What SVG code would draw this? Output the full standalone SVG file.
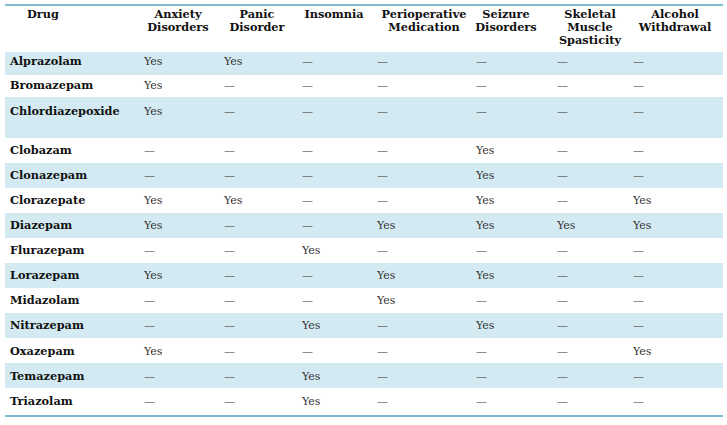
<svg xmlns="http://www.w3.org/2000/svg" width="727" height="425" viewBox="0 0 727 425">
<style>
.h{font-family:"DejaVu Serif",serif;font-weight:bold;font-size:11.3px;fill:#111;text-anchor:middle}
.d{font-family:"DejaVu Serif",serif;font-weight:bold;font-size:11.3px;fill:#111}
.c{font-family:"DejaVu Serif",serif;font-size:11px;fill:#333}
.s{fill:#d3eaf2}
.l{stroke:#7fbcd2;stroke-width:2}
</style>
<rect width="727" height="425" fill="#fff"/>
<g id="shading">
<rect class="s" x="5" y="52" width="718" height="23"/>
<rect class="s" x="5" y="97" width="718" height="41"/>
<rect class="s" x="5" y="163" width="718" height="25"/>
<rect class="s" x="5" y="213" width="718" height="25"/>
<rect class="s" x="5" y="263" width="718" height="25"/>
<rect class="s" x="5" y="313" width="718" height="25"/>
<rect class="s" x="5" y="363" width="718" height="25"/>
</g>
<g id="lines">
<line class="l" x1="5" y1="5" x2="723" y2="5"/>
<line class="l" x1="5" y1="416" x2="723" y2="416"/>
</g>
<g id="header">
<text class="h" x="43" y="18">Drug</text>
<text class="h" x="178" y="18">Anxiety</text><text class="h" x="178" y="31">Disorders</text>
<text class="h" x="257" y="18">Panic</text><text class="h" x="257" y="31">Disorder</text>
<text class="h" x="334" y="18">Insomnia</text>
<text class="h" x="424" y="18">Perioperative</text><text class="h" x="424" y="31">Medication</text>
<text class="h" x="506" y="18">Seizure</text><text class="h" x="506" y="31">Disorders</text>
<text class="h" x="590" y="18">Skeletal</text><text class="h" x="590" y="31">Muscle</text><text class="h" x="590" y="44">Spasticity</text>
<text class="h" x="675" y="18">Alcohol</text><text class="h" x="675" y="31">Withdrawal</text>
</g>
<g id="drugs">
<text class="d" x="10" y="65">Alprazolam</text>
<text class="d" x="10" y="89">Bromazepam</text>
<text class="d" x="10" y="115">Chlordiazepoxide</text>
<text class="d" x="10" y="154">Clobazam</text>
<text class="d" x="10" y="179">Clonazepam</text>
<text class="d" x="10" y="204">Clorazepate</text>
<text class="d" x="10" y="229">Diazepam</text>
<text class="d" x="10" y="254">Flurazepam</text>
<text class="d" x="10" y="279">Lorazepam</text>
<text class="d" x="10" y="304">Midazolam</text>
<text class="d" x="10" y="329">Nitrazepam</text>
<text class="d" x="10" y="355">Oxazepam</text>
<text class="d" x="10" y="380">Temazepam</text>
<text class="d" x="10" y="405">Triazolam</text>
</g>
<g id="cells">
<text class="c" x="144" y="65">Yes</text><text class="c" x="224" y="65">Yes</text><text class="c" x="302" y="65">—</text><text class="c" x="377" y="65">—</text><text class="c" x="476" y="65">—</text><text class="c" x="557" y="65">—</text><text class="c" x="633" y="65">—</text>
<text class="c" x="144" y="89">Yes</text><text class="c" x="224" y="89">—</text><text class="c" x="302" y="89">—</text><text class="c" x="377" y="89">—</text><text class="c" x="476" y="89">—</text><text class="c" x="557" y="89">—</text><text class="c" x="633" y="89">—</text>
<text class="c" x="144" y="115">Yes</text><text class="c" x="224" y="115">—</text><text class="c" x="302" y="115">—</text><text class="c" x="377" y="115">—</text><text class="c" x="476" y="115">—</text><text class="c" x="557" y="115">—</text><text class="c" x="633" y="115">—</text>
<text class="c" x="144" y="154">—</text><text class="c" x="224" y="154">—</text><text class="c" x="302" y="154">—</text><text class="c" x="377" y="154">—</text><text class="c" x="476" y="154">Yes</text><text class="c" x="557" y="154">—</text><text class="c" x="633" y="154">—</text>
<text class="c" x="144" y="179">—</text><text class="c" x="224" y="179">—</text><text class="c" x="302" y="179">—</text><text class="c" x="377" y="179">—</text><text class="c" x="476" y="179">Yes</text><text class="c" x="557" y="179">—</text><text class="c" x="633" y="179">—</text>
<text class="c" x="144" y="204">Yes</text><text class="c" x="224" y="204">Yes</text><text class="c" x="302" y="204">—</text><text class="c" x="377" y="204">—</text><text class="c" x="476" y="204">Yes</text><text class="c" x="557" y="204">—</text><text class="c" x="633" y="204">Yes</text>
<text class="c" x="144" y="229">Yes</text><text class="c" x="224" y="229">—</text><text class="c" x="302" y="229">—</text><text class="c" x="377" y="229">Yes</text><text class="c" x="476" y="229">Yes</text><text class="c" x="557" y="229">Yes</text><text class="c" x="633" y="229">Yes</text>
<text class="c" x="144" y="254">—</text><text class="c" x="224" y="254">—</text><text class="c" x="302" y="254">Yes</text><text class="c" x="377" y="254">—</text><text class="c" x="476" y="254">—</text><text class="c" x="557" y="254">—</text><text class="c" x="633" y="254">—</text>
<text class="c" x="144" y="279">Yes</text><text class="c" x="224" y="279">—</text><text class="c" x="302" y="279">—</text><text class="c" x="377" y="279">Yes</text><text class="c" x="476" y="279">Yes</text><text class="c" x="557" y="279">—</text><text class="c" x="633" y="279">—</text>
<text class="c" x="144" y="304">—</text><text class="c" x="224" y="304">—</text><text class="c" x="302" y="304">—</text><text class="c" x="377" y="304">Yes</text><text class="c" x="476" y="304">—</text><text class="c" x="557" y="304">—</text><text class="c" x="633" y="304">—</text>
<text class="c" x="144" y="329">—</text><text class="c" x="224" y="329">—</text><text class="c" x="302" y="329">Yes</text><text class="c" x="377" y="329">—</text><text class="c" x="476" y="329">Yes</text><text class="c" x="557" y="329">—</text><text class="c" x="633" y="329">—</text>
<text class="c" x="144" y="355">Yes</text><text class="c" x="224" y="355">—</text><text class="c" x="302" y="355">—</text><text class="c" x="377" y="355">—</text><text class="c" x="476" y="355">—</text><text class="c" x="557" y="355">—</text><text class="c" x="633" y="355">Yes</text>
<text class="c" x="144" y="380">—</text><text class="c" x="224" y="380">—</text><text class="c" x="302" y="380">Yes</text><text class="c" x="377" y="380">—</text><text class="c" x="476" y="380">—</text><text class="c" x="557" y="380">—</text><text class="c" x="633" y="380">—</text>
<text class="c" x="144" y="405">—</text><text class="c" x="224" y="405">—</text><text class="c" x="302" y="405">Yes</text><text class="c" x="377" y="405">—</text><text class="c" x="476" y="405">—</text><text class="c" x="557" y="405">—</text><text class="c" x="633" y="405">—</text>
</g>
</svg>
